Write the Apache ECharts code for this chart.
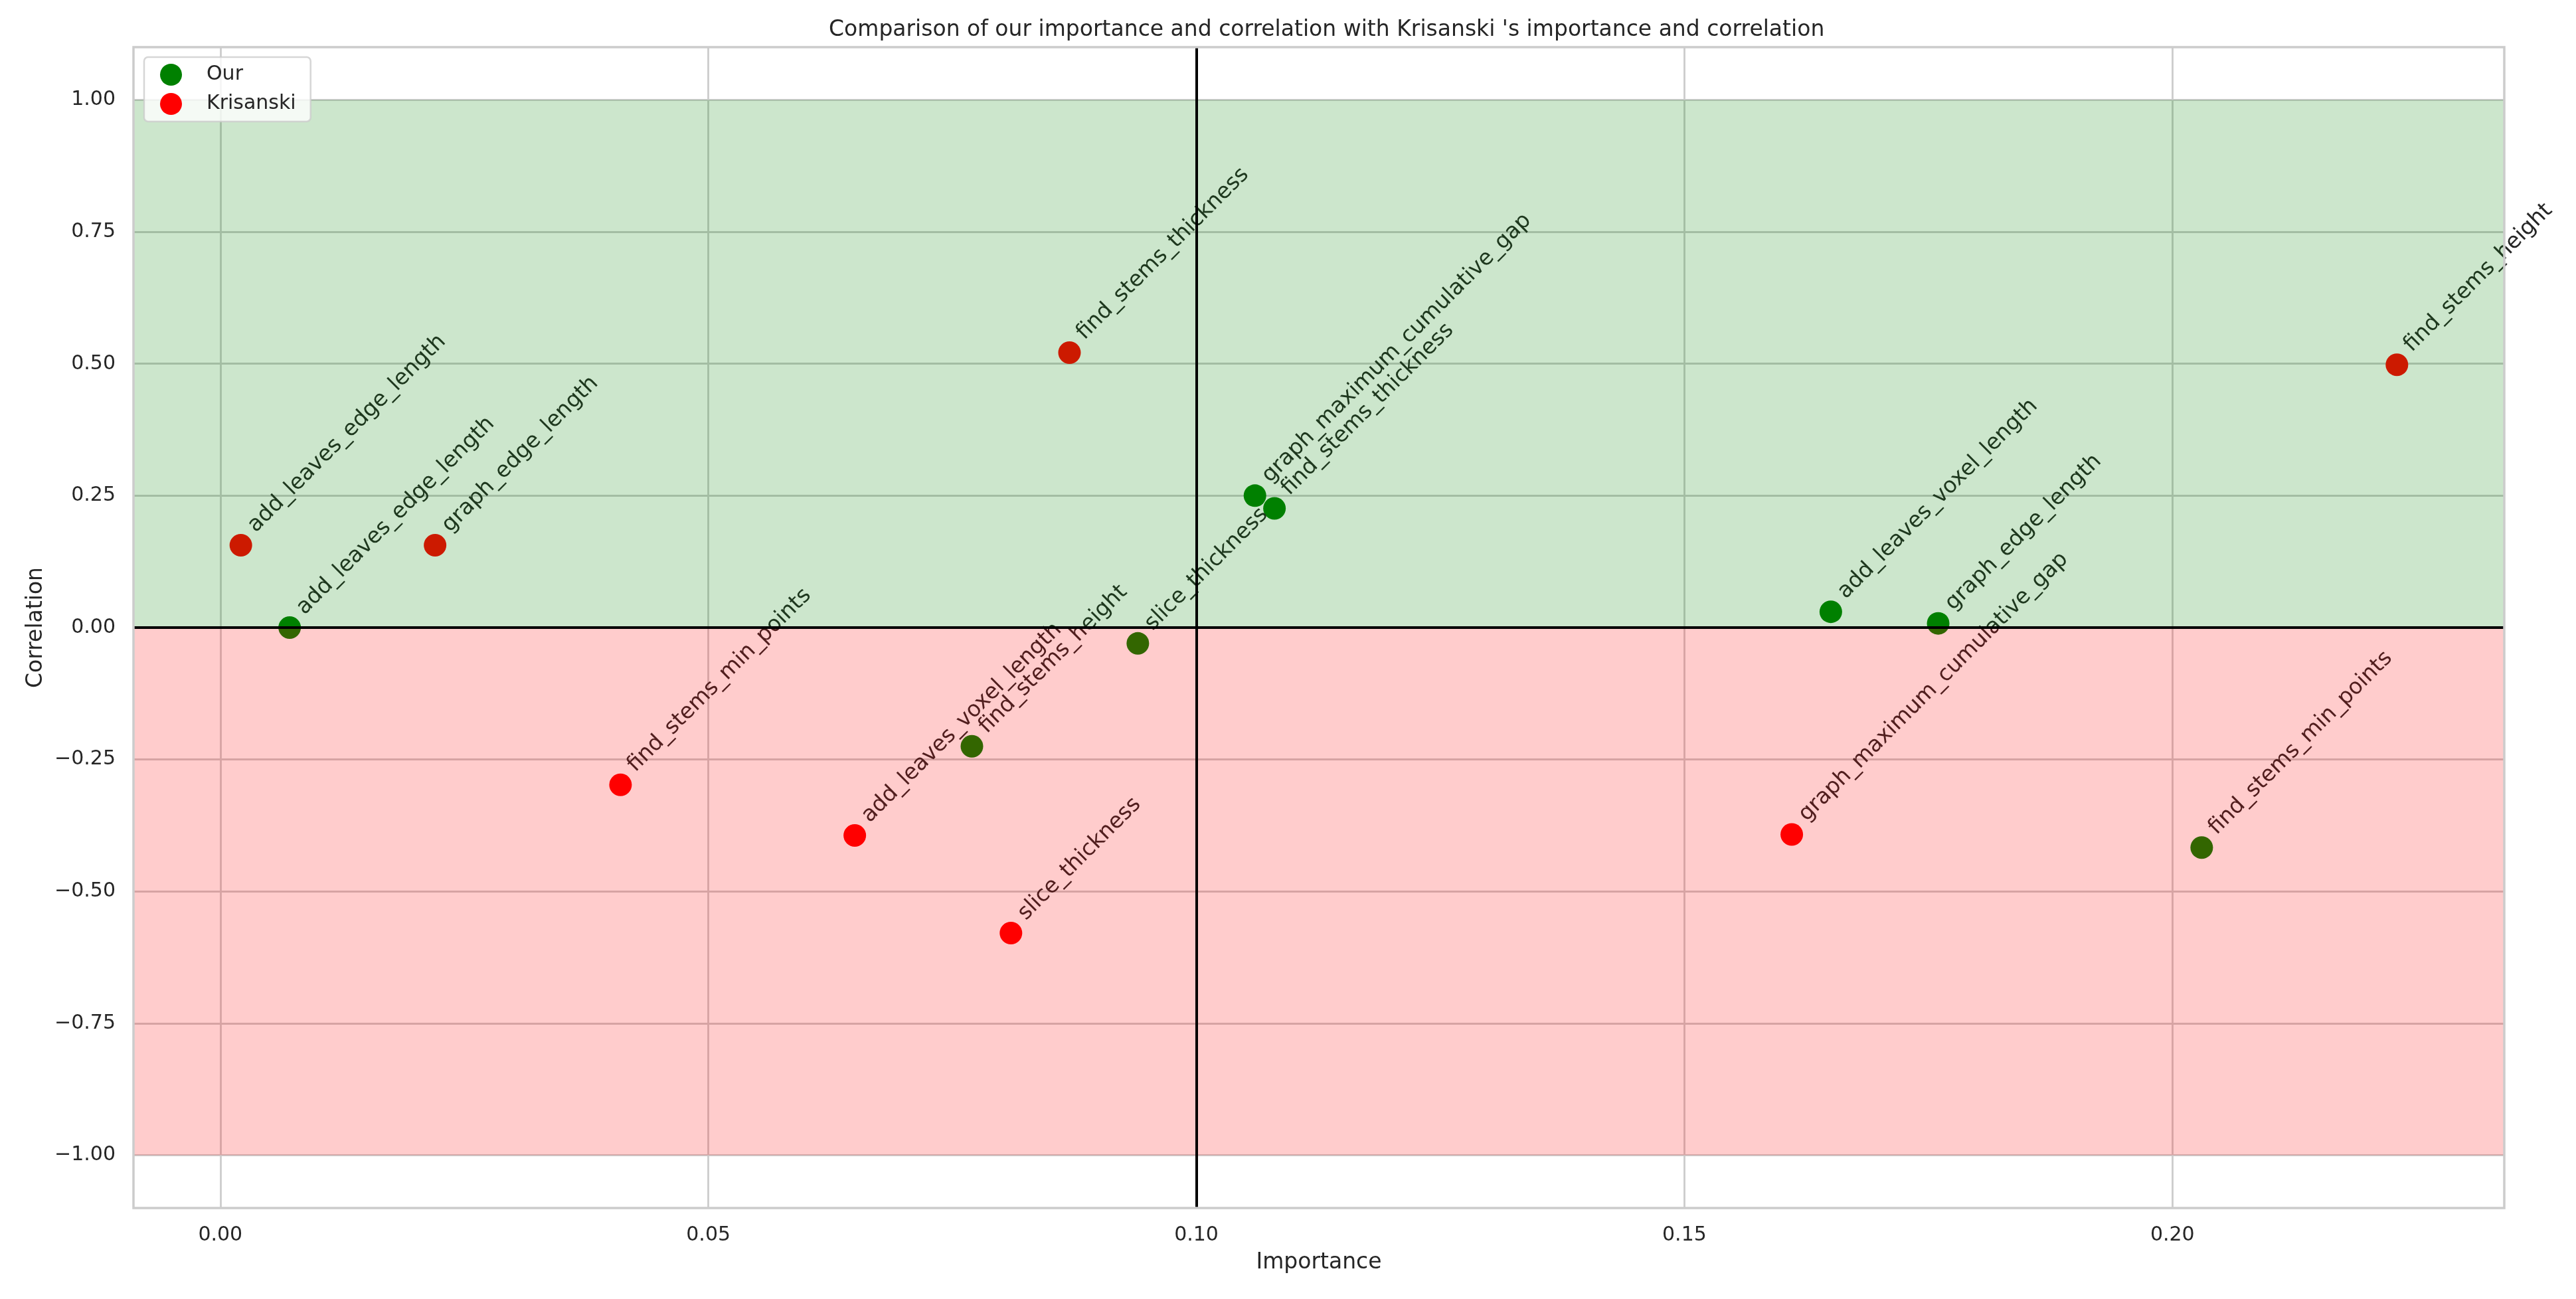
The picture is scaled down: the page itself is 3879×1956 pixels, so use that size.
<!DOCTYPE html>
<html>
<head>
<meta charset="utf-8">
<script src="https://cdn.jsdelivr.net/npm/echarts@6/dist/echarts.min.js"></script>
<style>
html,body{margin:0;padding:0;background:#ffffff;}
#chart{width:3879px;height:1956px;}
</style>
</head>
<body>
<div id="chart"></div>
<script>
// ---- data ----
const features = [
  'add_leaves_edge_length',
  'graph_edge_length',
  'find_stems_min_points',
  'add_leaves_voxel_length',
  'slice_thickness',
  'find_stems_thickness',
  'graph_maximum_cumulative_gap',
  'find_stems_height'
];
const ourImportance   = [0.0071, 0.1760, 0.2030, 0.1650, 0.0940, 0.1080, 0.1060, 0.0770];
const ourCorrelation  = [0.000, 0.008, -0.417, 0.030, -0.030, 0.226, 0.250, -0.225];
const krisImportance  = [0.0021, 0.0220, 0.0410, 0.0650, 0.0810, 0.0870, 0.1610, 0.2230];
const krisCorrelation = [0.156, 0.156, -0.298, -0.394, -0.579, 0.521, -0.392, 0.498];
const seriesNames = ['Our', 'Krisanski'];
const xTickValues = [0, 0.05, 0.10, 0.15, 0.20];
const yTickValues = [-1, -0.75, -0.5, -0.25, 0, 0.25, 0.5, 0.75, 1];
const spanRanges = [[0, 1], [-1, 0]];   // positive (green) and negative (red) correlation bands
const refLineX = [0.1];
const refLineY = [0];
const titleText = "Comparison of our importance and correlation with Krisanski 's importance and correlation";

// ---- styles ----
const FONT = 'DejaVu Sans';
const TXT = '#262626';
const spanColors = ['rgba(0,128,0,0.2)', 'rgba(255,0,0,0.2)'];
const pointColors = ['#008000', '#ff0000'];
const SYM = 34;

function fmtTick(v) {
  return Number(v).toFixed(2).replace('-', '\u2212');
}
function pairs(xs, ys) { return xs.map((x, i) => [x, ys[i]]); }

const labelOpt = {
  show: true,
  formatter: p => features[p.dataIndex],
  rotate: 45,
  position: [SYM / 2 + 28, SYM / 2 - 13],
  align: 'left',
  verticalAlign: 'bottom',
  fontFamily: FONT,
  fontSize: 33,
  color: TXT
};

const chart = echarts.init(document.getElementById('chart'), null, {renderer: 'canvas'});
chart.setOption({
  animation: false,
  backgroundColor: '#ffffff',
  textStyle: {fontFamily: FONT},
  title: {
    text: titleText,
    left: 1243,
    top: 24,
    textStyle: {fontFamily: FONT, fontSize: 33, fontWeight: 'normal', color: TXT}
  },
  legend: {
    data: seriesNames,
    orient: 'vertical',
    left: 217,
    top: 86,
    padding: [10, 22, 10, 24],
    itemGap: 11,
    itemWidth: 33,
    itemHeight: 33,
    icon: 'circle',
    backgroundColor: 'rgba(255,255,255,0.8)',
    borderColor: 'rgba(204,204,204,0.8)',
    borderWidth: 2.5,
    borderRadius: 6,
    textStyle: {fontFamily: FONT, fontSize: 30, color: TXT, padding: [0, 0, 0, 32]},
    selectedMode: false
  },
  grid: {
    show: true,
    z: 10,
    left: 201, top: 71, right: 108, bottom: 137,
    backgroundColor: 'transparent',
    borderColor: '#cccccc',
    borderWidth: 3.5
  },
  xAxis: {
    type: 'value',
    min: -0.0089,
    max: 0.234,
    name: 'Importance',
    nameLocation: 'middle',
    nameGap: 66,
    nameTextStyle: {fontFamily: FONT, fontSize: 33, color: TXT},
    axisLine: {show: false},
    axisTick: {show: false, customValues: xTickValues},
    axisLabel: {customValues: xTickValues, formatter: fmtTick, margin: 26,
                fontFamily: FONT, fontSize: 30, color: TXT},
    splitLine: {show: true, lineStyle: {color: '#cccccc', width: 2.8}}
  },
  yAxis: {
    type: 'value',
    min: -1.1,
    max: 1.1,
    name: 'Correlation',
    nameLocation: 'middle',
    nameGap: 127,
    nameTextStyle: {fontFamily: FONT, fontSize: 33, color: TXT},
    axisLine: {show: false},
    axisTick: {show: false, customValues: yTickValues},
    axisLabel: {customValues: yTickValues, formatter: fmtTick, margin: 27,
                fontFamily: FONT, fontSize: 30, color: TXT},
    splitLine: {show: true, lineStyle: {color: '#cccccc', width: 2.8}}
  },
  series: [
    {
      name: seriesNames[0],
      type: 'scatter',
      z: 2,
      symbol: 'circle',
      symbolSize: SYM,
      data: pairs(ourImportance, ourCorrelation),
      itemStyle: {color: pointColors[0], opacity: 1},
      label: labelOpt,
      emphasis: {disabled: true},
      markLine: {
        silent: true,
        symbol: ['none', 'none'],
        label: {show: false},
        lineStyle: {color: '#000000', width: 4, type: 'solid'},
        data: refLineY.map(v => ({yAxis: v})).concat(refLineX.map(v => ({xAxis: v})))
      }
    },
    {
      name: seriesNames[1],
      type: 'scatter',
      z: 2,
      symbol: 'circle',
      symbolSize: SYM,
      data: pairs(krisImportance, krisCorrelation),
      itemStyle: {color: pointColors[1], opacity: 1},
      label: labelOpt,
      emphasis: {disabled: true}
    },
    {
      name: 'bands',
      type: 'custom',
      z: 3,
      silent: true,
      data: spanRanges,
      renderItem: function (params, api) {
        const cs = params.coordSys;
        const lo = api.coord([0, api.value(0)]);
        const hi = api.coord([0, api.value(1)]);
        const y0 = Math.min(lo[1], hi[1]);
        const y1 = Math.max(lo[1], hi[1]);
        return {
          type: 'rect',
          shape: {x: cs.x, y: y0, width: cs.width, height: y1 - y0},
          style: {fill: spanColors[params.dataIndex]}
        };
      }
    }
  ]
});
</script>
</body>
</html>
